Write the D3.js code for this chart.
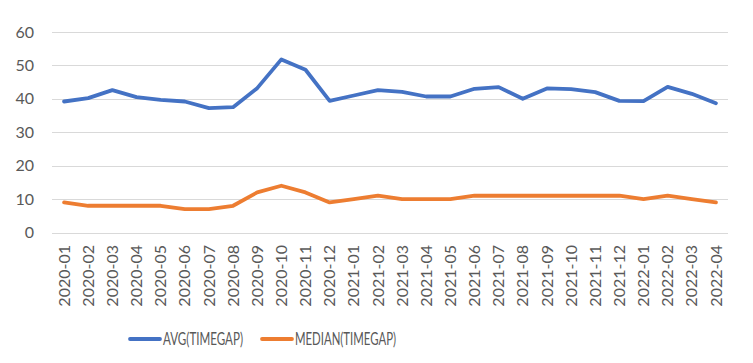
<!DOCTYPE html>
<html>
<head>
<meta charset="utf-8">
<script src="https://cdn.jsdelivr.net/npm/d3@7"></script>
<style>
  body { margin: 0; background: #fff; }
  svg text { font-family: Lato, "Liberation Sans", sans-serif; fill: #595959; }
</style>
</head>
<body>
<div id="chart"></div>
<script>
// months on the x axis
const months = ["2020-01","2020-02","2020-03","2020-04","2020-05","2020-06","2020-07","2020-08",
  "2020-09","2020-10","2020-11","2020-12","2021-01","2021-02","2021-03","2021-04","2021-05",
  "2021-06","2021-07","2021-08","2021-09","2021-10","2021-11","2021-12","2022-01","2022-02",
  "2022-03","2022-04"];

// AVG(TIMEGAP)
const avgVals = [39.2, 40.2, 42.6, 40.5, 39.7, 39.2, 37.2, 37.5, 43.2, 51.8, 48.7, 39.4, 41.0, 42.6,
  42.1, 40.7, 40.7, 43.0, 43.5, 40.0, 43.1, 42.9, 42.0, 39.4, 39.3, 43.6, 41.5, 38.7];

// MEDIAN(TIMEGAP)
const medVals = [9, 8, 8, 8, 8, 7, 7, 8, 12, 14, 12, 9, 10, 11, 10, 10, 10, 11, 11, 11, 11, 11, 11,
  11, 10, 11, 10, 9];

const yTicks = [0, 10, 20, 30, 40, 50, 60];

const seriesNames = ["AVG(TIMEGAP)", "MEDIAN(TIMEGAP)"];
const colors = ["#4472C4", "#ED7D31"];

const width = 753, height = 363;
const margin = { top: 32, right: 25, bottom: 130, left: 52 };

const svg = d3.select("#chart").append("svg")
  .attr("width", width)
  .attr("height", height);

const x = d3.scaleBand()
  .domain(months)
  .range([margin.left, width - margin.right]);

const y = d3.scaleLinear()
  .domain([0, 60])
  .range([height - margin.bottom - 0.5, margin.top]);

// gridlines
svg.append("g")
  .selectAll("line")
  .data(yTicks)
  .join("line")
  .attr("x1", margin.left)
  .attr("x2", width - margin.right)
  .attr("y1", d => Math.round(y(d)) + 0.5)
  .attr("y2", d => Math.round(y(d)) + 0.5)
  .attr("stroke", "#d9d9d9")
  .attr("stroke-width", 1);

// y labels
svg.append("g")
  .selectAll("text")
  .data(yTicks)
  .join("text")
  .attr("x", 34)
  .attr("y", d => y(d))
  .attr("dy", "0.35em")
  .attr("text-anchor", "end")
  .style("font-size", "16px")
  .text(d => d);

// x labels (rotated)
svg.append("g")
  .selectAll("text")
  .data(months)
  .join("text")
  .attr("transform", d => `translate(${x(d) + x.bandwidth() / 2}, 245) rotate(-90)`)
  .attr("dy", "0.35em")
  .attr("text-anchor", "end")
  .style("font-size", "16px")
  .text(d => d);

// lines
const line = d3.line()
  .x((d, i) => x(months[i]) + x.bandwidth() / 2)
  .y(d => y(d));

[avgVals, medVals].forEach((vals, k) => {
  svg.append("path")
    .datum(vals)
    .attr("d", line)
    .attr("fill", "none")
    .attr("stroke", colors[k])
    .attr("stroke-width", 3.8)
    .attr("stroke-linejoin", "round")
    .attr("stroke-linecap", "round");
});

// legend (text squeezed to the narrow legend font widths)
const legendX = [130, 262];
const legendLen = [80, 101];
const legend = svg.append("g");
seriesNames.forEach((name, k) => {
  legend.append("line")
    .attr("x1", legendX[k]).attr("x2", legendX[k] + 30)
    .attr("y1", 339).attr("y2", 339)
    .attr("stroke", colors[k])
    .attr("stroke-width", 3.8)
    .attr("stroke-linecap", "round");
  legend.append("text")
    .attr("x", legendX[k] + 33)
    .attr("y", 339)
    .attr("dy", "0.36em")
    .attr("textLength", legendLen[k])
    .attr("lengthAdjust", "spacingAndGlyphs")
    .style("font-size", "18px")
    .text(name);
});
</script>
</body>
</html>
